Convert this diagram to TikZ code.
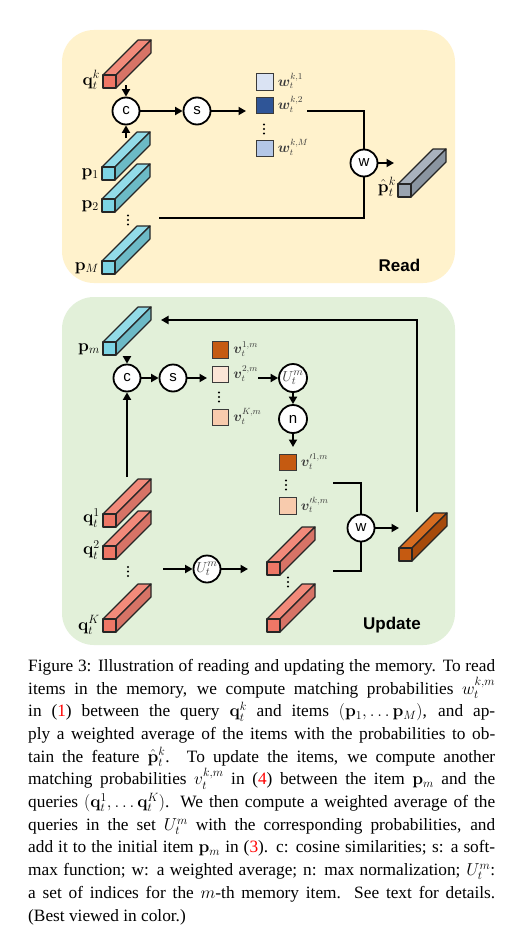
\documentclass[tikz,border=0pt]{standalone}
\usepackage{amsmath,bm}
\usepackage[no-math]{fontspec}
\setmainfont{Liberation Serif}
\newfontfamily\arialfont{Liberation Sans}
\usetikzlibrary{arrows.meta,calc}
\definecolor{readbg}{HTML}{FFF2CC}
\definecolor{updbg}{HTML}{E2F0D9}
\definecolor{redfront}{HTML}{EE7766}
\definecolor{redtop}{HTML}{F28A7A}
\definecolor{redside}{HTML}{D77366}
\definecolor{cyanfront}{HTML}{7DD4E4}
\definecolor{cyantop}{HTML}{92DBE8}
\definecolor{cyanside}{HTML}{6CBAC6}
\definecolor{grayfront}{HTML}{9AA4B0}
\definecolor{graytop}{HTML}{A9B2BD}
\definecolor{grayside}{HTML}{8A95A1}
\definecolor{orfront}{HTML}{C55A11}
\definecolor{ortop}{HTML}{D66C20}
\definecolor{orside}{HTML}{A64A0B}
\definecolor{wA}{HTML}{DAE3F3}
\definecolor{wB}{HTML}{2F5597}
\definecolor{wC}{HTML}{B4C7E7}
\definecolor{vA}{HTML}{C55A11}
\definecolor{vB}{HTML}{FBE5D6}
\definecolor{vC}{HTML}{F8CBAD}
\definecolor{labgray}{HTML}{3A3A3A}
\newcommand{\memblock}[4]{%
 \begin{scope}[shift={(#1,#2)}]
  \filldraw[fill=#3top, blockline] (0,-13) -- (35,-48) -- (48,-48) -- (13,-13) -- cycle;
  \filldraw[fill=#3side, blockline] (13,0) -- (13,-13) -- (48,-48) -- (48,-35) -- cycle;
  \filldraw[fill=#3front, blockline] (0,0) rectangle (13,-13);
  \coordinate (#4) at (6.5,-6.5);
 \end{scope}}
\newcommand{\dotsv}[2]{\foreach \dy in {-4.5,0,4.5} \fill (#1,#2+\dy) circle (1.15pt);}
\newcommand{\capline}[1]{\hbox to 467pt{#1}}
\tikzset{
 blockline/.style={draw=black!85, line width=1.2pt, line join=round},
 op/.style={circle, draw, line width=1.8pt, fill=white, minimum size=27pt, inner sep=0pt,
   font=\arialfont\fontsize{15}{15}\selectfont},
 opu/.style={op, minimum size=28pt, font=\fontsize{15}{15}\selectfont, text=labgray},
 sq/.style={draw=labgray, line width=0.9pt, minimum size=16.5pt, inner sep=0pt},
 lbl/.style={inner sep=1pt, font=\fontsize{16.5}{16.5}\selectfont},
 slbl/.style={inner sep=0pt, anchor=west, font=\fontsize{13.5}{13.5}\selectfont, text=labgray},
 arr/.style={line width=1.8pt, -{Triangle[length=7.5pt,width=8pt]}},
 conn/.style={line width=1.8pt},
 title/.style={font=\arialfont\bfseries\fontsize{17}{17}\selectfont}
}
\begin{document}
\begin{tikzpicture}[x=1pt,y=-1pt]
\useasboundingbox (0,0) rectangle (525,934);
\fill[white] (0,0) rectangle (525,934);
% panels
\fill[readbg, rounded corners=32pt] (62,30) rectangle (455,283);
\fill[updbg, rounded corners=32pt] (62,297) rectangle (455,645);

% ---------------- Read ----------------
\memblock{103}{88}{red}{qk}
\memblock{102}{180}{cyan}{p1}
\memblock{102}{212}{cyan}{p2}
\memblock{102}{274}{cyan}{pM}
\memblock{398}{197}{gray}{phat}
\dotsv{128}{220}

\node[lbl, anchor=east] (qkl) at (101,80) {$\mathbf{q}_t^k$};
\node[lbl, anchor=east] (p1l) at (100,174) {$\mathbf{p}_1$};
\node[lbl, anchor=east] (p2l) at (100,206) {$\mathbf{p}_2$};
\node[lbl, anchor=east] (pMl) at (100,268) {$\mathbf{p}_M$};
\node[lbl, anchor=east] (phl) at (397,187) {$\hat{\mathbf{p}}_t^k$};

\node[op] (c1) at (126,111) {c};
\node[op] (s1) at (197,111) {s};
\node[op] (w1) at (364,163) {w};

\node[sq, fill=wA] (wa) at (265,82) {};
\node[sq, fill=wB] (wb) at (265,105.5) {};
\node[sq, fill=wC] (wc) at (265,148.5) {};
\dotsv{264}{129}
\node[slbl] (wal) at ($(wa.east)+(4,-1)$) {$\bm{w}_t^{k,1}$};
\node[slbl] (wbl) at ($(wb.east)+(4,-1)$) {$\bm{w}_t^{k,2}$};
\node[slbl] (wcl) at ($(wc.east)+(4,-1)$) {$\bm{w}_t^{k,M}$};

\coordinate (qkout) at (126,85);
\coordinate (p1out) at (126,138);
\coordinate (sqin) at (246,111);
\coordinate (wbout) at (307,111);
\coordinate (pbot) at (159,218);
\coordinate (w1to) at (394,163);
\draw[arr] (qkout) -- (c1);
\draw[arr] (p1out) -- (c1);
\draw[arr] (c1) -- (s1);
\draw[arr] (s1) -- (sqin);
\draw[conn] (wbout) -| (w1.north);
\draw[conn] (pbot) -| (w1.south);
\draw[arr] (w1) -- (w1to);

\node[title] (readt) at (399.5,265) {Read};

% ---------------- Update ----------------
\memblock{103}{355}{cyan}{pm}
\memblock{103}{527}{red}{q1}
\memblock{103}{559}{red}{q2}
\memblock{103}{632}{red}{qK}
\memblock{267}{575}{red}{rq1}
\memblock{267}{632}{red}{rq2}
\memblock{399}{561}{or}{pnew}
\dotsv{128}{571.5}
\dotsv{288}{582}

\node[lbl, anchor=east] (pml) at (101,349) {$\mathbf{p}_m$};
\node[lbl, anchor=east] (q1l) at (101,518) {$\mathbf{q}_t^1$};
\node[lbl, anchor=east] (q2l) at (101,550) {$\mathbf{q}_t^2$};
\node[lbl, anchor=east] (qKl) at (101,625) {$\mathbf{q}_t^K$};

\node[op] (c2) at (127,378) {c};
\node[op] (s2) at (173,378) {s};
\node[opu] (U1) at (293,378) {$U_t^m$};
\node[op, minimum size=28pt] (n2) at (293,419) {n};
\node[op] (w2) at (361,528) {w};
\node[opu, minimum size=27pt] (U2) at (207,569) {$U_t^m$};

\node[sq, fill=vA] (va) at (220.5,350) {};
\node[sq, fill=vB] (vb) at (220.5,374.5) {};
\node[sq, fill=vC] (vc) at (220.5,417.5) {};
\dotsv{219}{397}
\node[slbl] (val) at ($(va.east)+(4,-1)$) {$\bm{v}_t^{1,m}$};
\node[slbl] (vbl) at ($(vb.east)+(4,-1)$) {$\bm{v}_t^{2,m}$};
\node[slbl] (vcl) at ($(vc.east)+(4,-1)$) {$\bm{v}_t^{K,m}$};

\node[sq, fill=vA] (vpa) at (288,462.5) {};
\node[sq, fill=vC] (vpb) at (288,506) {};
\dotsv{286}{485}
\node[slbl] (vpal) at ($(vpa.east)+(4,-1)$) {$\bm{v}_t^{\prime 1,m}$};
\node[slbl] (vpbl) at ($(vpb.east)+(4,-1)$) {$\bm{v}_t^{\prime k,m}$};

\coordinate (pmout) at (127,358);
\coordinate (q1out) at (127,477);
\coordinate (vin) at (207,378);
\coordinate (vbout) at (258,378);
\coordinate (vpin) at (293,447);
\coordinate (vtop) at (333,483);
\coordinate (vbot) at (333,571);
\coordinate (w2to) at (399,528);
\coordinate (orout) at (417,512);
\coordinate (pmin) at (161,320);
\coordinate (qin) at (163,569);
\coordinate (qout) at (248,569);
\draw[arr] (pmout) -- (c2);
\draw[arr] (q1out) -- (c2);
\draw[arr] (c2) -- (s2);
\draw[arr] (s2) -- (vin);
\draw[arr] (vbout) -- (U1);
\draw[arr] (U1) -- (n2);
\draw[arr] (n2) -- (vpin);
\draw[conn] (vtop) -| (w2.north);
\draw[conn] (vbot) -| (w2.south);
\draw[arr] (w2) -- (w2to);
\draw[arr] (orout) |- (pmin);
\draw[arr] (qin) -- (U2);
\draw[arr] (U2) -- (qout);

\node[title] (updt) at (392,625) {Update};

% ---------------- caption ----------------
\node[anchor=north west, inner sep=0pt, font=\fontsize{17.3}{22.7}\selectfont] (cap) at (28,659) {%
\begin{minipage}{467pt}\baselineskip=22.7pt
\capline{Figure 3: Illustration of reading and updating the memory. To read}
\capline{items in the memory, we compute matching probabilities $w_t^{k,m}$}
\capline{in (\textcolor{red}{1}) between the query $\mathbf{q}_t^k$ and items $(\mathbf{p}_1, \dots \mathbf{p}_M)$, and ap-}
\capline{ply a weighted average of the items with the probabilities to ob-}
\capline{tain the feature $\hat{\mathbf{p}}_t^k$. To update the items, we compute another}
\capline{matching probabilities $v_t^{k,m}$ in (\textcolor{red}{4}) between the item $\mathbf{p}_m$ and the}
\capline{queries $(\mathbf{q}_t^1, \dots \mathbf{q}_t^K)$. We then compute a weighted average of the}
\capline{queries in the set $U_t^m$ with the corresponding probabilities, and}
\capline{add it to the initial item $\mathbf{p}_m$ in (\textcolor{red}{3}). c: cosine similarities; s: a soft-}
\capline{max function; w: a weighted average; n: max normalization; $U_t^m$:}
\capline{a set of indices for the $m$-th memory item. See text for details.}
\hbox{(Best viewed in color.)}
\end{minipage}};
\end{tikzpicture}
\end{document}
